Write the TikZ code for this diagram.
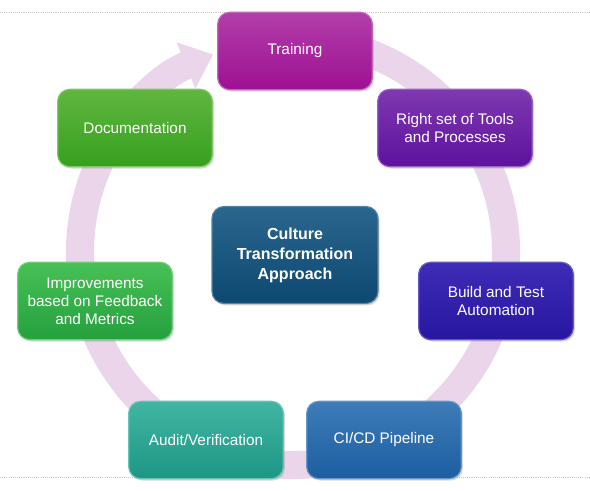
\documentclass[tikz,border=0pt]{standalone}
\usepackage{fontspec}
\setmainfont{Liberation Sans}
\usetikzlibrary{arrows.meta,shadows}
\definecolor{ringc}{RGB}{235,213,235}
\definecolor{trainT}{RGB}{178,62,170}
\definecolor{trainB}{RGB}{158,16,146}
\definecolor{toolsT}{RGB}{126,56,176}
\definecolor{toolsB}{RGB}{94,18,158}
\definecolor{buildT}{RGB}{62,44,182}
\definecolor{buildB}{RGB}{38,22,160}
\definecolor{cicdT}{RGB}{62,124,184}
\definecolor{cicdB}{RGB}{28,94,160}
\definecolor{auditT}{RGB}{64,182,162}
\definecolor{auditB}{RGB}{30,150,134}
\definecolor{impT}{RGB}{72,192,86}
\definecolor{impB}{RGB}{36,160,62}
\definecolor{docT}{RGB}{96,182,64}
\definecolor{docB}{RGB}{54,160,30}
\definecolor{cultT}{RGB}{42,102,142}
\definecolor{cultB}{RGB}{12,72,112}
\tikzset{
  x=0.75pt, y=0.75pt,
  stepbox/.style={rectangle, rounded corners=9pt, minimum width=116pt, minimum height=58pt,
    text=white, align=center, font=\fontsize{11.5}{13.5}\selectfont, line width=0.9pt,
    drop shadow={shadow xshift=1.2pt, shadow yshift=-1.4pt, opacity=0.3}},
  centerbox/.style={stepbox, minimum width=124.5pt, minimum height=72.75pt,
    font=\fontsize{12}{15}\selectfont\bfseries},
  guide/.style={draw=gray!45, line width=0.6pt, dash pattern=on 0.8pt off 0.8pt},
}
\begin{document}
\begin{tikzpicture}
\useasboundingbox (0,0) rectangle (590,-491);
\fill[white] (0,0) rectangle (590,-491);
\coordinate (gl1) at (0,-12); \coordinate (gr1) at (590,-12);
\coordinate (gl2) at (0,-477); \coordinate (gr2) at (590,-477);
\draw[guide] (gl1) -- (gr1);
\draw[guide] (gl2) -- (gr2);
\coordinate (ctr) at (293,-252);
\draw[ringc, line width=21pt, -{Triangle[width=36pt,length=22pt]}]
  (ctr) ++(78:213) arc[start angle=78, end angle=-248, radius=213];
\node[stepbox, top color=trainT, bottom color=trainB, draw=trainT!80!white] (train) at (295,-51) {Training};
\node[stepbox, top color=toolsT, bottom color=toolsB, draw=toolsT!80!white] (tools) at (455,-128) {Right set of Tools\\and Processes};
\node[stepbox, top color=buildT, bottom color=buildB, draw=buildT!80!white] (build) at (496,-301) {Build and Test\\Automation};
\node[stepbox, top color=cicdT, bottom color=cicdB, draw=cicdT!80!white] (cicd) at (384,-440) {CI/CD Pipeline};
\node[stepbox, top color=auditT, bottom color=auditB, draw=auditT!80!white] (audit) at (206,-440) {Audit/Verification};
\node[stepbox, top color=impT, bottom color=impB, draw=impT!80!white] (imp) at (95,-301) {Improvements\\based on Feedback\\and Metrics};
\node[stepbox, top color=docT, bottom color=docB, draw=docT!80!white] (doc) at (135,-128) {Documentation};
\node[centerbox, top color=cultT, bottom color=cultB, draw=cultT!80!white] (cult) at (295,-255) {Culture\\Transformation\\Approach};
\end{tikzpicture}
\end{document}
